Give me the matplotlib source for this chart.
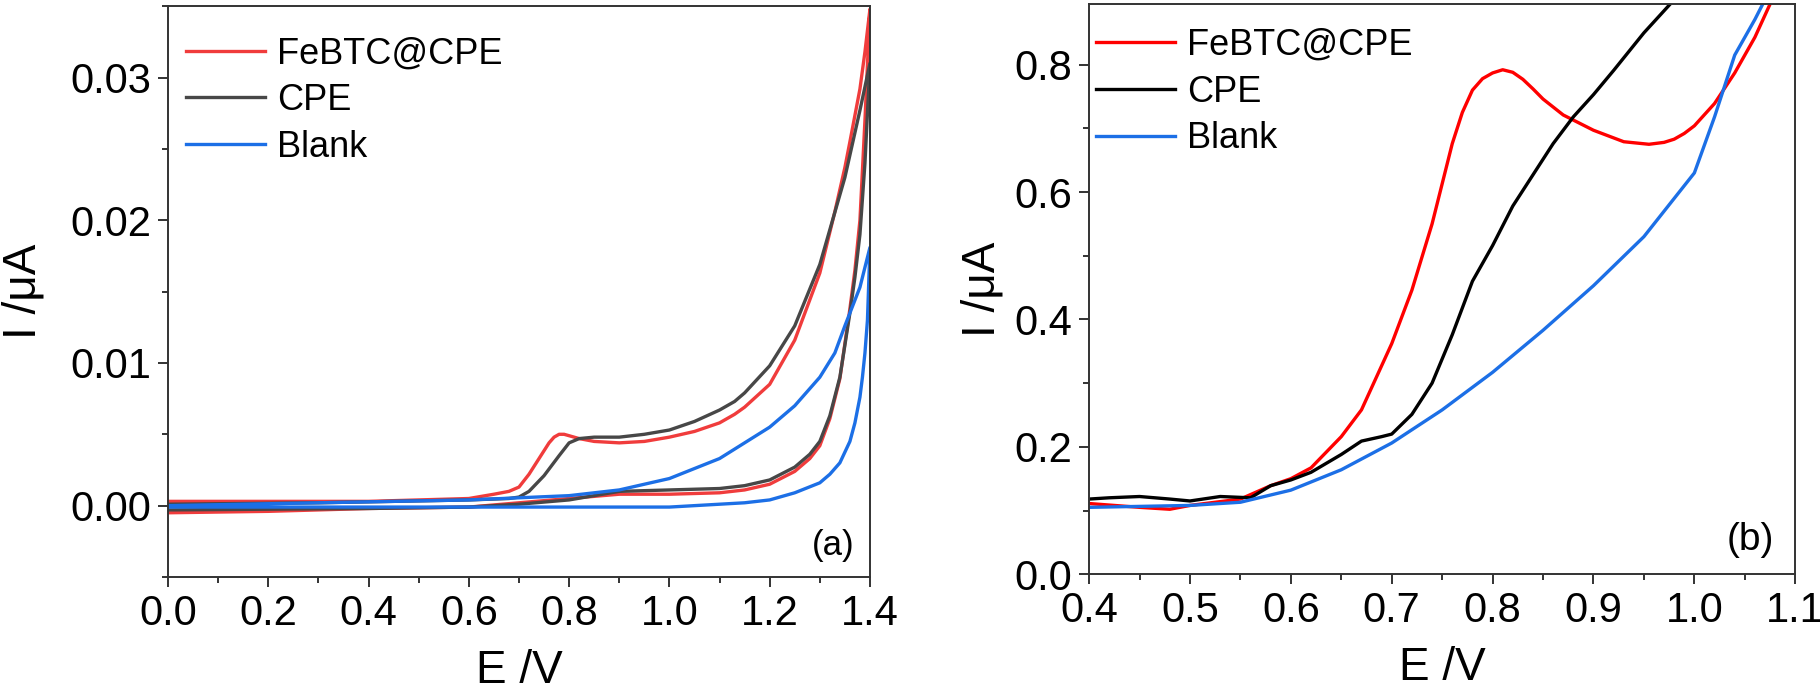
import numpy as np
import matplotlib.pyplot as plt
from matplotlib.ticker import MultipleLocator, FormatStrFormatter

plt.rcParams['font.family'] = ['Liberation Sans', 'DejaVu Sans']

# ---- panel (a): cyclic scans, forward branch then return branch ----
fe_fwd_E = [0.0, 0.2, 0.4, 0.6, 0.65, 0.68, 0.70, 0.72, 0.74, 0.76, 0.77, 0.78, 0.79, 0.80,
            0.82, 0.85, 0.90, 0.95, 1.00, 1.05, 1.10, 1.13, 1.15, 1.20, 1.25, 1.30, 1.33,
            1.35, 1.36, 1.38, 1.39, 1.40]
fe_fwd_I = [0.0003, 0.0003, 0.0003, 0.0005, 0.0008, 0.0010, 0.0013, 0.0022, 0.0033, 0.0044,
            0.0048, 0.0050, 0.0050, 0.0049, 0.0047, 0.0045, 0.0044, 0.0045, 0.0048, 0.0052,
            0.0058, 0.0064, 0.0069, 0.0085, 0.0116, 0.0163, 0.0206, 0.0237, 0.0255, 0.0292,
            0.0318, 0.0348]
fe_rev_E = [1.40, 1.39, 1.38, 1.37, 1.36, 1.34, 1.32, 1.30, 1.28, 1.25, 1.20, 1.15, 1.10,
            1.00, 0.90, 0.80, 0.70, 0.60, 0.40, 0.20, 0.0]
fe_rev_I = [0.0348, 0.0270, 0.0200, 0.0165, 0.0138, 0.0089, 0.0061, 0.0042, 0.0033, 0.0024,
            0.0015, 0.0011, 0.0009, 0.0008, 0.0008, 0.0005, 0.0002, -0.0001, -0.0002, -0.0004,
            -0.0005]

cpe_fwd_E = [0.0, 0.3, 0.6, 0.68, 0.70, 0.72, 0.75, 0.78, 0.80, 0.82, 0.85, 0.90, 0.95, 1.00,
             1.05, 1.10, 1.13, 1.15, 1.20, 1.25, 1.30, 1.35, 1.38, 1.40]
cpe_fwd_I = [0.0001, 0.0002, 0.0004, 0.0005, 0.0006, 0.0010, 0.0021, 0.0035, 0.0044, 0.0047,
             0.0048, 0.0048, 0.0050, 0.0053, 0.0059, 0.0067, 0.0073, 0.0079, 0.0098, 0.0126,
             0.0169, 0.0230, 0.0277, 0.0310]
cpe_rev_E = [1.40, 1.39, 1.38, 1.37, 1.36, 1.34, 1.32, 1.30, 1.28, 1.25, 1.20, 1.15, 1.10,
             1.00, 0.90, 0.85, 0.80, 0.70, 0.60, 0.40, 0.0]
cpe_rev_I = [0.0310, 0.0240, 0.0190, 0.0160, 0.0135, 0.0090, 0.0063, 0.0045, 0.0036, 0.0027,
             0.0018, 0.0014, 0.0012, 0.0011, 0.0010, 0.0007, 0.0004, 0.0001, -0.0001, -0.0002,
             -0.0003]

blank_fwd_E = [0.0, 0.3, 0.6, 0.8, 0.9, 1.0, 1.1, 1.2, 1.25, 1.3, 1.33, 1.35, 1.38, 1.40]
blank_fwd_I = [0.0, 0.0002, 0.0004, 0.0007, 0.0011, 0.0019, 0.0033, 0.0055, 0.0070, 0.0090,
               0.0107, 0.0126, 0.0153, 0.0181]
blank_rev_E = [1.40, 1.395, 1.39, 1.385, 1.38, 1.37, 1.36, 1.34, 1.32, 1.30, 1.25, 1.20, 1.15,
               1.10, 1.00, 0.80, 0.50, 0.0]
blank_rev_I = [0.0181, 0.0130, 0.0107, 0.0090, 0.0076, 0.0058, 0.0045, 0.0030, 0.0022, 0.0016,
               0.0009, 0.0004, 0.0002, 0.0001, -0.0001, -0.0001, -0.0001, -0.0001]

# ---- panel (b): linear sweeps ----
fe_b_E = [0.40, 0.45, 0.48, 0.50, 0.55, 0.58, 0.60, 0.62, 0.65, 0.67, 0.70, 0.72, 0.74, 0.76,
          0.77, 0.78, 0.79, 0.80, 0.81, 0.82, 0.83, 0.84, 0.85, 0.87, 0.90, 0.93, 0.955, 0.97,
          0.98, 0.99, 1.00, 1.02, 1.04, 1.06, 1.075, 1.085]
fe_b_I = [0.111, 0.105, 0.102, 0.108, 0.118, 0.139, 0.150, 0.167, 0.216, 0.258, 0.362, 0.446,
          0.550, 0.676, 0.725, 0.760, 0.778, 0.787, 0.792, 0.788, 0.777, 0.762, 0.746, 0.721,
          0.697, 0.679, 0.675, 0.678, 0.683, 0.692, 0.704, 0.739, 0.787, 0.843, 0.895, 0.93]
cpe_b_E = [0.40, 0.42, 0.45, 0.48, 0.50, 0.53, 0.56, 0.58, 0.60, 0.62, 0.65, 0.67, 0.69, 0.70,
           0.72, 0.74, 0.76, 0.78, 0.80, 0.82, 0.84, 0.86, 0.88, 0.90, 0.92, 0.95, 0.98, 1.0]
cpe_b_I = [0.118, 0.120, 0.122, 0.118, 0.115, 0.122, 0.120, 0.139, 0.148, 0.160, 0.188, 0.209,
           0.216, 0.220, 0.251, 0.300, 0.376, 0.460, 0.516, 0.578, 0.627, 0.676, 0.718, 0.753,
           0.791, 0.850, 0.902, 0.94]
blank_b_E = [0.40, 0.50, 0.55, 0.60, 0.65, 0.70, 0.75, 0.80, 0.85, 0.90, 0.95, 1.00, 1.02,
             1.04, 1.06, 1.07, 1.08]
blank_b_I = [0.105, 0.108, 0.113, 0.132, 0.164, 0.206, 0.258, 0.317, 0.383, 0.453, 0.530,
             0.630, 0.718, 0.815, 0.871, 0.902, 0.95]

labels = ["FeBTC@CPE", "CPE", "Blank"]
colors_a = ["#f03c3c", "#474747", "#1c6fe6"]
colors_b = ["#ff0000", "#000000", "#1c6fe6"]


def style_axes(ax, ylab_x):
    for sp in ax.spines.values():
        sp.set_linewidth(1.4)
        sp.set_color("#333333")
    ax.tick_params(which="major", direction="out", length=7, width=1.4, labelsize=30,
                   pad=5, color="#333333")
    ax.tick_params(which="minor", direction="out", length=4.5, width=1.4, color="#333333")
    ax.set_xlabel("E /V", fontsize=33, labelpad=11)
    ax.set_ylabel("I /\u03bcA", fontsize=33)
    ax.yaxis.set_label_coords(ylab_x, 0.5)


fig = plt.figure(figsize=(18.2, 6.91), dpi=100)
ax1 = fig.add_axes([0.0923, 0.165, 0.3857, 0.826])
ax2 = fig.add_axes([0.5984, 0.169, 0.388, 0.825])

curves_a = [(fe_fwd_E + fe_rev_E, fe_fwd_I + fe_rev_I),
            (cpe_fwd_E + cpe_rev_E, cpe_fwd_I + cpe_rev_I),
            (blank_fwd_E + blank_rev_E, blank_fwd_I + blank_rev_I)]
for (E, I), c, lab in zip(curves_a, colors_a, labels):
    ax1.plot(E, I, color=c, lw=2.4, label=lab)
ax1.set_xlim(0, 1.4)
ax1.set_ylim(-0.005, 0.035)
ax1.xaxis.set_major_locator(MultipleLocator(0.2))
ax1.xaxis.set_minor_locator(MultipleLocator(0.1))
ax1.yaxis.set_major_locator(MultipleLocator(0.01))
ax1.yaxis.set_minor_locator(MultipleLocator(0.005))
ax1.xaxis.set_major_formatter(FormatStrFormatter("%.1f"))
ax1.yaxis.set_major_formatter(FormatStrFormatter("%.2f"))
style_axes(ax1, -0.175)
ax1.legend(loc="upper left", bbox_to_anchor=(0.0256, 0.947), frameon=False, fontsize=26,
           handlelength=2.19, handletextpad=0.33, labelspacing=0.32, borderaxespad=0,
           borderpad=0)
ax1.text(0.947, 0.056, "(a)", transform=ax1.transAxes, fontsize=25, ha="center", va="center")

curves_b = [(fe_b_E, fe_b_I), (cpe_b_E, cpe_b_I), (blank_b_E, blank_b_I)]
for (E, I), c, lab in zip(curves_b, colors_b, labels):
    ax2.plot(E, I, color=c, lw=2.4, label=lab)
ax2.set_xlim(0.4, 1.1)
ax2.set_ylim(0, 0.895)
ax2.xaxis.set_major_locator(MultipleLocator(0.1))
ax2.xaxis.set_minor_locator(MultipleLocator(0.05))
ax2.yaxis.set_major_locator(MultipleLocator(0.2))
ax2.yaxis.set_minor_locator(MultipleLocator(0.1))
ax2.xaxis.set_major_formatter(FormatStrFormatter("%.1f"))
ax2.yaxis.set_major_formatter(FormatStrFormatter("%.1f"))
style_axes(ax2, -0.12)
ax2.legend(loc="upper left", bbox_to_anchor=(0.01, 0.958), frameon=False, fontsize=26,
           handlelength=2.19, handletextpad=0.33, labelspacing=0.32, borderaxespad=0,
           borderpad=0)
ax2.text(0.936, 0.06, "(b)", transform=ax2.transAxes, fontsize=28, ha="center", va="center")

fig.savefig("out.png", dpi=100)
